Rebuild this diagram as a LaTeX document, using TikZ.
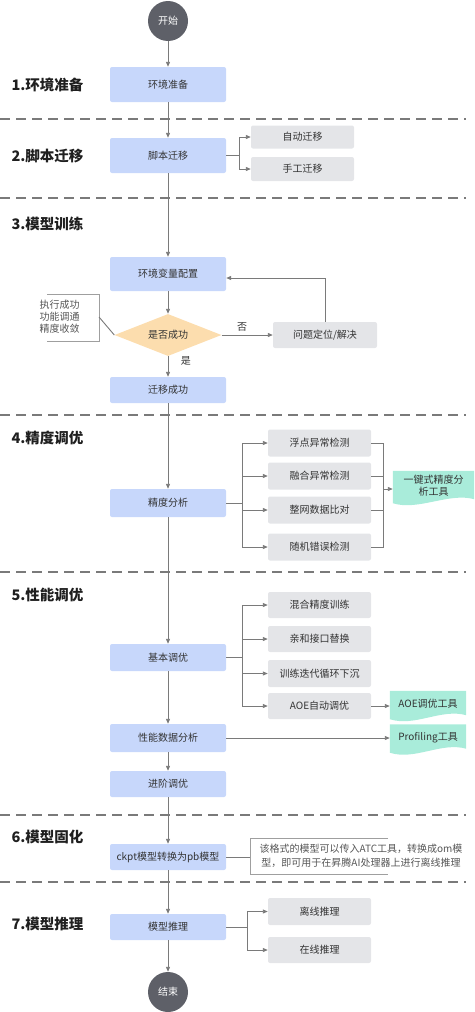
\documentclass[tikz,border=0pt]{standalone}
\usepackage{fontspec}
\setmainfont{Noto Sans CJK SC}
\usetikzlibrary{arrows.meta,positioning,calc,shapes.geometric,backgrounds}
\definecolor{boxblue}{HTML}{C7D7FB}
\definecolor{boxgray}{HTML}{E4E5E8}
\definecolor{decorange}{HTML}{FCDDAE}
\definecolor{toolteal}{HTML}{A9ECDA}
\definecolor{termgray}{HTML}{5E6068}
\definecolor{linegray}{HTML}{7A7A7A}
\definecolor{textgray}{HTML}{333333}
\definecolor{notegray}{HTML}{555555}

\begin{document}
\begin{tikzpicture}[x=1pt, y=-1pt,
    every node/.style={font=\fontsize{10}{12}\selectfont, text=textgray},
    mainbox/.style={fill=boxblue, rounded corners=2pt, minimum width=116pt, minimum height=27pt, inner sep=0pt},
    subbox/.style={fill=boxgray, rounded corners=2pt, minimum width=103pt, minimum height=27pt, inner sep=0pt},
    toolbox/.style={minimum width=76pt, minimum height=26pt, inner sep=0pt, align=center},
    terminal/.style={circle, fill=termgray, minimum size=40pt, inner sep=0pt, text=white},
    decision/.style={diamond, aspect=2.5, fill=decorange, minimum width=107pt, minimum height=42pt, inner sep=0pt},
    heading/.style={anchor=west, font=\fontsize{14.5}{16}\selectfont\bfseries, text=black!88},
    notetext/.style={align=left, text=notegray},
    line/.style={draw=linegray, line width=0.9pt},
    link/.style={line, -{Triangle[length=5pt,width=4pt]}},
    bracket/.style={draw=gray!75, line width=0.8pt},
    sepline/.style={draw=linegray, line width=1.2pt, dash pattern=on 10pt off 6pt},
  ]
    \useasboundingbox (0,0) rectangle (474,1012);

    % Stage separators
    \foreach \y in {119,198,415,572,815,882}
      \draw[sepline] (0,\y) -- (466,\y);

    % Stage titles
    \node[heading] (h1) at (8,85) {1.环境准备};
    \node[heading] (h2) at (8,156) {2.脚本迁移};
    \node[heading] (h3) at (8,224) {3.模型训练};
    \node[heading] (h4) at (8,438) {4.精度调优};
    \node[heading] (h5) at (8,595) {5.性能调优};
    \node[heading] (h6) at (8,837) {6.模型固化};
    \node[heading] (h7) at (8,924) {7.模型推理};

    % Main flow
    \node[terminal] (start) at (168,21) {开始};
    \node[mainbox, minimum height=35pt] (env) at (168,84.5) {环境准备};
    \node[mainbox, minimum height=35pt] (script) at (168,155.5) {脚本迁移};
    \node[mainbox, minimum height=34pt] (envvar) at (168,274) {环境变量配置};
    \node[decision] (ok) at (168,335) {是否成功};
    \node[mainbox, minimum height=26pt] (done) at (168,390) {迁移成功};
    \node[mainbox, minimum height=28pt] (acc) at (168,503) {精度分析};
    \node[mainbox] (basic) at (168,657.5) {基本调优};
    \node[mainbox, minimum height=28pt] (perf) at (168,738) {性能数据分析};
    \node[mainbox, minimum height=26pt] (adv) at (168,784) {进阶调优};
    \node[mainbox, minimum height=26pt] (ckpt) at (168,857) {ckpt模型转换为pb模型};
    \node[mainbox, minimum height=26pt] (infer) at (168,927) {模型推理};
    \node[terminal] (end) at (168,992) {结束};

    % Side steps
    \node[subbox, minimum height=23pt] (auto) at (302.5,137) {自动迁移};
    \node[subbox, minimum height=24pt] (manual) at (302.5,169) {手工迁移};
    \node[subbox, minimum width=104pt, minimum height=26pt] (fix) at (325,335) {问题定位/解决};
    \node[subbox] (float) at (319.5,443) {浮点异常检测};
    \node[subbox] (fuse) at (319.5,476) {融合异常检测};
    \node[subbox] (net) at (319.5,510) {整网数据比对};
    \node[subbox] (rand) at (319.5,547) {随机错误检测};
    \node[subbox, minimum height=26pt] (mixed) at (319.5,605) {混合精度训练};
    \node[subbox, minimum height=26pt] (affin) at (319.5,639) {亲和接口替换};
    \node[subbox] (sink) at (319.5,673.5) {训练迭代循环下沉};
    \node[subbox, minimum height=26pt] (aoe) at (319.5,706) {AOE自动调优};
    \node[subbox] (offline) at (319.5,911.5) {离线推理};
    \node[subbox, minimum height=26pt] (online) at (319.5,950) {在线推理};

    % Tools
    \node[toolbox, minimum width=81pt, minimum height=30pt] (acctool) at (433.5,486) {一键式精度分\\析工具};
    \node[toolbox] (aoetool) at (428,704) {AOE调优工具};
    \node[toolbox] (proftool) at (428,737.5) {Profiling工具};
    \begin{scope}[on background layer]
      \foreach \t in {acctool,aoetool,proftool}
        \fill[toolteal] (\t.north west) -- (\t.north east) -- ([yshift=2pt]\t.south east)
          .. controls +(-25,-7) and +(25,8) .. ([yshift=-2pt]\t.south west) -- cycle;
    \end{scope}

    % Notes
    \node[notetext, anchor=west] (cond) at (36,317) {执行成功\\功能调通\\精度收敛};
    \draw[bracket] (47,294) -- (99,294) -- (99,341) -- (47,341);
    \coordinate (condtip) at (99,317);
    \node[notetext, align=center, font=\fontsize{10}{14}\selectfont] (ckptnote) at (361,856)
      {该格式的模型可以传入ATC工具，转换成om模\\型，即可用于在昇腾AI处理器上进行离线推理};
    \draw[bracket] (388,838) -- (250,838) -- (250,874) -- (388,874);
    \coordinate (ckpttip) at (250,857);

    % Main connectors
    \draw[link] (start) -- (env);
    \draw[link] (env) -- (script);
    \draw[link] (script) -- (envvar);
    \draw[link] (envvar) -- (ok);
    \draw[link] (ok) -- node[pos=0.25, right=9pt] {是} (done);
    \draw[link] (ok) -- node[pos=0.4, above] {否} (fix);
    \draw[link] (fix.north) |- ([yshift=-4pt]envvar.east);
    \draw[link] (done) -- (acc);
    \draw[link] (acc) -- (basic);
    \draw[link] (basic) -- (perf);
    \draw[link] (perf) -- (adv);
    \draw[link] (adv) -- (ckpt);
    \draw[link] (ckpt) -- (infer);
    \draw[link] (infer) -- (end);

    % Fan-outs
    \draw[line] (script.east) -- ++(13,0) coordinate (scriptfan);
    \foreach \n in {auto,manual}
      \draw[link] (scriptfan) |- (\n.west);
    \draw[line] (acc.east) -- ++(16,0) coordinate (accfan);
    \foreach \n in {float,fuse,net,rand}
      \draw[link] (accfan) |- (\n.west);
    \draw[line] (basic.east) -- ++(16,0) coordinate (basicfan);
    \foreach \n in {mixed,affin,sink,aoe}
      \draw[link] (basicfan) |- (\n.west);
    \draw[line] (infer.east) -- ++(21,0) coordinate (inferfan);
    \foreach \n in {offline,online}
      \draw[link] (inferfan) |- (\n.west);

    % Fan-in to the accuracy tool
    \coordinate (accbus) at (383,489);
    \foreach \n in {float,fuse,net,rand}
      \draw[line] (\n.east) -| (accbus);
    \draw[link] (accbus) -- (accbus -| acctool.west);

    % Tool links and notes
    \draw[link] (aoe.east) -- (aoe.east -| aoetool.west);
    \draw[link] (perf.east) -- (perf.east -| proftool.west);
    \draw[line] (condtip) -- (ok.west);
    \draw[line] (ckpt.east) -- (ckpttip);
  \end{tikzpicture}
\end{document}
